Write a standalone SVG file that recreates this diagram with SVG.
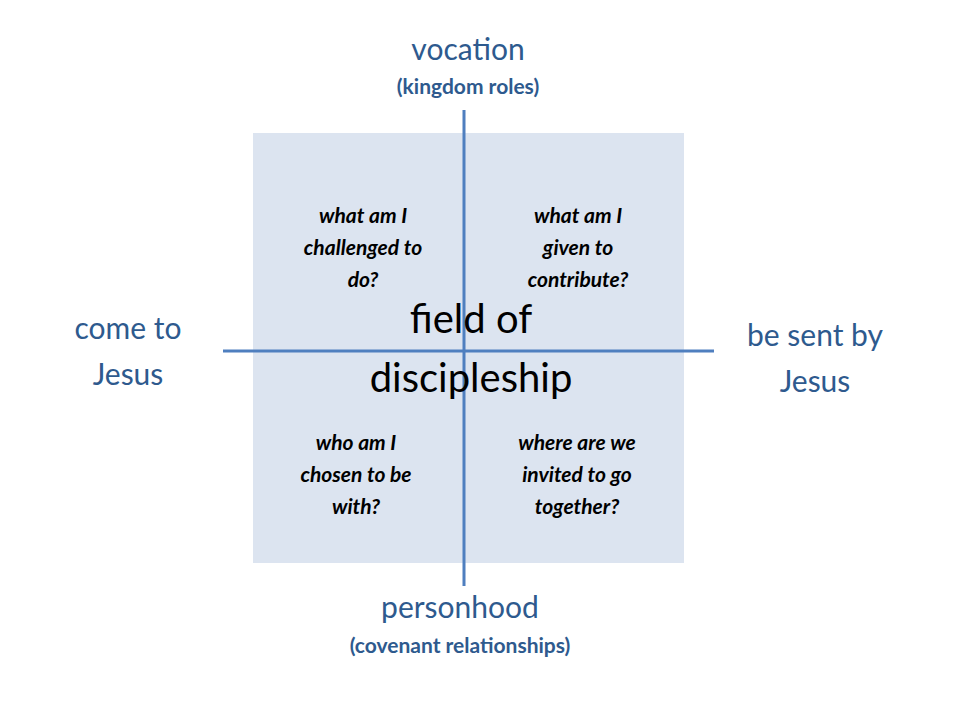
<svg xmlns="http://www.w3.org/2000/svg" width="960" height="720" viewBox="0 0 960 720">
<style>
.ax{font-family:Lato,"Open Sans",sans-serif;fill:#2e5a8e;text-anchor:middle}
.s{font-weight:bold}
.q{font-family:Lato,"Open Sans",sans-serif;font-style:italic;font-weight:bold;font-size:21px;fill:#000;text-anchor:middle}
.c{font-family:Lato,"Open Sans",sans-serif;font-size:40px;fill:#000;text-anchor:middle}
</style>
<rect width="960" height="720" fill="#fff"/>
<g id="field"><rect x="253" y="133" width="431" height="430" fill="#dce4f0"/></g>
<g id="connectors" stroke="#4f7fbf" stroke-width="3">
<line x1="464" y1="110" x2="464" y2="586"/>
<line x1="223" y1="351" x2="714" y2="351"/>
</g>
<g id="top"><text class="ax" x="468" y="60" font-size="30">vocation</text><text class="ax s" x="468" y="94" font-size="21">(kingdom roles)</text></g>
<g id="bottom"><text class="ax" x="460" y="618" font-size="30">personhood</text><text class="ax s" x="460" y="653" font-size="21">(covenant relationships)</text></g>
<g id="left"><text class="ax" x="128" y="339" font-size="30">come to</text><text class="ax" x="128" y="385" font-size="30">Jesus</text></g>
<g id="right"><text class="ax" x="815" y="346" font-size="30">be sent by</text><text class="ax" x="815" y="392" font-size="30">Jesus</text></g>
<g id="q1"><text class="q" x="363" y="223">what am I</text><text class="q" x="363" y="255">challenged to</text><text class="q" x="363" y="287">do?</text></g>
<g id="q2"><text class="q" x="578" y="223">what am I</text><text class="q" x="578" y="255">given to</text><text class="q" x="578" y="287">contribute?</text></g>
<g id="q3"><text class="q" x="356" y="450">who am I</text><text class="q" x="356" y="482">chosen to be</text><text class="q" x="356" y="514">with?</text></g>
<g id="q4"><text class="q" x="577" y="450">where are we</text><text class="q" x="577" y="482">invited to go</text><text class="q" x="577" y="514">together?</text></g>
<g id="center"><text class="c" x="471" y="333">field of</text><text class="c" x="471" y="392">discipleship</text></g>
</svg>
